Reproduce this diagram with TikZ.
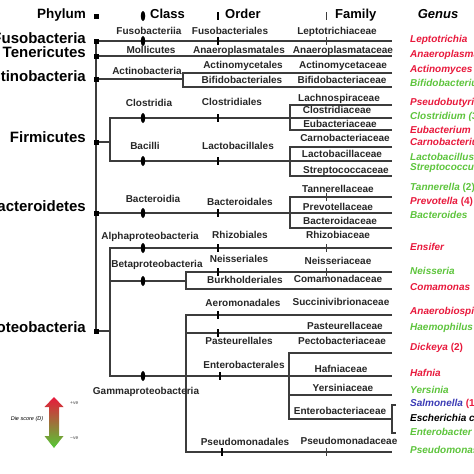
\documentclass[tikz,border=0pt]{standalone}
\usepackage{fontspec}
\setmainfont{Liberation Sans}
\usetikzlibrary{shapes.geometric}
\definecolor{rojo}{HTML}{E8193C}
\definecolor{verde}{HTML}{5DC43C}
\definecolor{azul}{HTML}{3B3BB5}
\definecolor{gris}{HTML}{3C3C3C}
\begin{document}
\begin{tikzpicture}[x=1pt, y=-1pt,
    rama/.style={draw=gris, line width=1.1pt},
    cuadro/.style={fill=black, minimum size=5pt, inner sep=0pt},
    marcaclase/.style={ellipse, fill=black, minimum width=4.5pt, minimum height=10pt, inner sep=0pt},
    marcaorden/.style={fill=black, minimum width=2.6pt, minimum height=8.5pt, inner sep=0pt},
    marcafam/.style={fill=gris, minimum width=0.9pt, minimum height=8pt, inner sep=0pt},
    filo/.style={anchor=mid east, inner sep=0pt, font=\bfseries\fontsize{15}{17}\selectfont},
    titulo/.style={anchor=mid west, inner sep=0pt, font=\bfseries\fontsize{13}{15}\selectfont},
    taxon/.style={anchor=mid, inner sep=0pt, text=black!85, font=\bfseries\fontsize{10}{12}\selectfont},
    genero/.style={anchor=mid west, inner sep=0pt, font=\bfseries\itshape\fontsize{10}{12}\selectfont}]
    \useasboundingbox (0,0) rectangle (474,474);

    % Encabezados
    \node[filo, font=\bfseries\fontsize{13.5}{15}\selectfont] (hFilo) at (86,16) {Phylum};
    \node[cuadro] (hCuadro) at (96,16) {};
    \node[marcaclase] (hMarcaClase) at (143,16) {};
    \node[titulo] (hClase) at (150,16) {Class};
    \node[marcaorden] (hMarcaOrden) at (218,16) {};
    \node[titulo] (hOrden) at (225,16) {Order};
    \node[marcafam] (hMarcaFam) at (326,16) {};
    \node[titulo] (hFam) at (335,16) {Family};
    \node[anchor=mid, inner sep=0pt, font=\bfseries\itshape\fontsize{13}{15}\selectfont] (hGenero) at (438,16) {Genus};

    % Definir los puntos
    \coordinate (fin) at (392,0);
    \coordinate (Fuso) at (96,41);
    \coordinate (Tene) at (96,56);
    \coordinate (Acti) at (96,79);
    \coordinate (Firm) at (96,142);
    \coordinate (Bact) at (96,213);
    \coordinate (Prot) at (96,331);
    \coordinate (actiB) at (183,79);
    \coordinate (actiB1) at (183,73);
    \coordinate (actiB2) at (183,87);
    \coordinate (firmB) at (110,142);
    \coordinate (clos) at (110,118);
    \coordinate (baci) at (110,161);
    \coordinate (closB1) at (290,105);
    \coordinate (closB2) at (290,130);
    \coordinate (lactB1) at (290,147);
    \coordinate (lactB2) at (290,176);
    \coordinate (bactB1) at (290,197);
    \coordinate (bactB2) at (290,228);
    \coordinate (protB) at (110,331);
    \coordinate (alfa) at (110,248);
    \coordinate (beta) at (110,281);
    \coordinate (gama) at (110,376);
    \coordinate (betaB) at (186,281);
    \coordinate (neis) at (186,272);
    \coordinate (burk) at (186,289);
    \coordinate (aero) at (186,315);
    \coordinate (past) at (186,333);
    \coordinate (pseu) at (186,452);
    \coordinate (pect) at (289,353);
    \coordinate (yers) at (289,395);
    \coordinate (entB) at (289,419);
    \coordinate (salm) at (396,405);
    \coordinate (ente) at (396,433);

    % Dibujar las ramas
    \draw[rama] (Fuso) -- (Prot);
    \draw[rama] (Fuso) -- (Fuso -| fin);
    \draw[rama] (Tene) -- (Tene -| fin);
    \draw[rama] (Acti) -- (actiB);
    \draw[rama] (actiB1 -| fin) -- (actiB1) -- (actiB2) -- (actiB2 -| fin);
    \draw[rama] (Firm) -- (firmB);
    \draw[rama] (clos -| fin) -- (clos) -- (baci) -- (baci -| fin);
    \draw[rama] (closB1 -| fin) -- (closB1) -- (closB2) -- (closB2 -| fin);
    \draw[rama] (lactB1 -| fin) -- (lactB1) -- (lactB2) -- (lactB2 -| fin);
    \draw[rama] (Bact) -- (Bact -| fin);
    \draw[rama] (bactB1 -| fin) -- (bactB1) -- (bactB2) -- (bactB2 -| fin);
    \draw[rama] (Prot) -- (protB);
    \draw[rama] (alfa -| fin) -- (alfa) -- (gama) -- (gama -| fin);
    \draw[rama] (beta) -- (betaB);
    \draw[rama] (neis -| fin) -- (neis) -- (burk) -- (burk -| fin);
    \draw[rama] (aero -| fin) -- (aero) -- (pseu) -- (pseu -| fin);
    \draw[rama] (past) -- (past -| fin);
    \draw[rama] (pect -| fin) -- (pect) -- (entB) -- (entB -| fin);
    \draw[rama] (yers) -- (yers -| fin);
    \draw[rama] (salm) -- (salm -| fin) -- (ente -| fin) -- (ente);

    % Marcas de filo
    \node[cuadro] (cFuso) at (Fuso) {};
    \node[cuadro] (cTene) at (Tene) {};
    \node[cuadro] (cActi) at (Acti) {};
    \node[cuadro] (cFirm) at (Firm) {};
    \node[cuadro] (cBact) at (Bact) {};
    \node[cuadro] (cProt) at (Prot) {};

    % Marcas de clase
    \node[marcaclase] (eFuso) at (143,41) {};
    \node[marcaclase] (eClos) at (143,118) {};
    \node[marcaclase] (eBaci) at (143,161) {};
    \node[marcaclase] (eBact) at (143,213) {};
    \node[marcaclase] (eAlfa) at (143,248) {};
    \node[marcaclase] (eBeta) at (143,281) {};
    \node[marcaclase] (eGama) at (143,376) {};

    % Marcas de orden
    \node[marcaorden] (oFuso) at (218,41) {};
    \node[marcaorden] (oClos) at (218,118) {};
    \node[marcaorden] (oLact) at (218,161) {};
    \node[marcaorden] (oBact) at (218,213) {};
    \node[marcaorden] (oRhiz) at (218,248) {};
    \node[marcaorden] (oNeis) at (218,272) {};
    \node[marcaorden] (oAero) at (218,315) {};
    \node[marcaorden] (oPast) at (218,333) {};
    \node[marcaorden] (oEnte) at (220,376) {};
    \node[marcaorden] (oPseu) at (222,452) {};

    % Marcas de familia
    \node[marcafam] (fLept) at (326,41) {};
    \node[marcafam] (fTann) at (326,197) {};
    \node[marcafam] (fRhiz) at (326,248) {};
    \node[marcafam] (fNeis) at (326,272) {};
    \node[marcafam] (fPseu) at (326,452) {};

    % Etiquetas de filo
    \node[filo] (tFuso) at (86,41) {Fusobacteria};
    \node[filo] (tTene) at (86,55) {Tenericutes};
    \node[filo] (tActi) at (86,79) {Actinobacteria};
    \node[filo] (tFirm) at (86,140) {Firmicutes};
    \node[filo] (tBact) at (86,209) {Bacteroidetes};
    \node[filo] (tProt) at (86,330) {Proteobacteria};

    % Etiquetas de clase
    \node[taxon] (lFusobacteriia) at (149,32) {Fusobacteriia};
    \node[taxon] (lMollicutes) at (151,51) {Mollicutes};
    \node[taxon] (lActinobacteria) at (147,72) {Actinobacteria};
    \node[taxon] (lClostridia) at (149,104) {Clostridia};
    \node[taxon] (lBacilli) at (145,147) {Bacilli};
    \node[taxon] (lBacteroidia) at (153,200) {Bacteroidia};
    \node[taxon] (lAlfa) at (150,237) {Alphaproteobacteria};
    \node[taxon] (lBeta) at (157,265) {Betaproteobacteria};
    \node[taxon] (lGama) at (146,392) {Gammaproteobacteria};

    % Etiquetas de orden
    \node[taxon] (lFusobacteriales) at (230,32) {Fusobacteriales};
    \node[taxon] (lAnaeroplasmatales) at (239,51) {Anaeroplasmatales};
    \node[taxon] (lActinomycetales) at (243,66) {Actinomycetales};
    \node[taxon] (lBifidobacteriales) at (242,81) {Bifidobacteriales};
    \node[taxon] (lClostridiales) at (232,103) {Clostridiales};
    \node[taxon] (lLactobacillales) at (238,147) {Lactobacillales};
    \node[taxon] (lBacteroidales) at (240,203) {Bacteroidales};
    \node[taxon] (lRhizobiales) at (240,236) {Rhizobiales};
    \node[taxon] (lNeisseriales) at (239,260) {Neisseriales};
    \node[taxon] (lBurkholderiales) at (245,281) {Burkholderiales};
    \node[taxon] (lAeromonadales) at (243,304) {Aeromonadales};
    \node[taxon] (lPasteurellales) at (239,342) {Pasteurellales};
    \node[taxon] (lEnterobacterales) at (244,366) {Enterobacterales};
    \node[taxon] (lPseudomonadales) at (245,443) {Pseudomonadales};

    % Etiquetas de familia
    \node[taxon] (lLeptotrichiaceae) at (337,32) {Leptotrichiaceae};
    \node[taxon] (lAnaeroplasmataceae) at (343,51) {Anaeroplasmataceae};
    \node[taxon] (lActinomycetaceae) at (343,66) {Actinomycetaceae};
    \node[taxon] (lBifidobacteriaceae) at (342,81) {Bifidobacteriaceae};
    \node[taxon] (lLachnospiraceae) at (339,99) {Lachnospiraceae};
    \node[taxon] (lClostridiaceae) at (337,111) {Clostridiaceae};
    \node[taxon] (lEubacteriaceae) at (340,125) {Eubacteriaceae};
    \node[taxon] (lCarnobacteriaceae) at (345,139) {Carnobacteriaceae};
    \node[taxon] (lLactobacillaceae) at (342,155) {Lactobacillaceae};
    \node[taxon] (lStreptococcaceae) at (346,171) {Streptococcaceae};
    \node[taxon] (lTannerellaceae) at (338,190) {Tannerellaceae};
    \node[taxon] (lPrevotellaceae) at (338,208) {Prevotellaceae};
    \node[taxon] (lBacteroidaceae) at (340,222) {Bacteroidaceae};
    \node[taxon] (lRhizobiaceae) at (338,236) {Rhizobiaceae};
    \node[taxon] (lNeisseriaceae) at (338,262) {Neisseriaceae};
    \node[taxon] (lComamonadaceae) at (338,280) {Comamonadaceae};
    \node[taxon] (lSuccinivibrionaceae) at (341,303) {Succinivibrionaceae};
    \node[taxon] (lPasteurellaceae) at (345,327) {Pasteurellaceae};
    \node[taxon] (lPectobacteriaceae) at (342,342) {Pectobacteriaceae};
    \node[taxon] (lHafniaceae) at (341,370) {Hafniaceae};
    \node[taxon] (lYersiniaceae) at (343,389) {Yersiniaceae};
    \node[taxon] (lEnterobacteriaceae) at (340,412) {Enterobacteriaceae};
    \node[taxon] (lPseudomonadaceae) at (349,442) {Pseudomonadaceae};

    % Etiquetas de genero
    \node[genero, rojo] (gLeptotrichia) at (410,40) {Leptotrichia};
    \node[genero, rojo] (gAnaeroplasma) at (410,55) {Anaeroplasma};
    \node[genero, rojo] (gActinomyces) at (410,70) {Actinomyces};
    \node[genero, verde] (gBifidobacterium) at (410,84) {Bifidobacterium};
    \node[genero, rojo] (gPseudobutyrivibrio) at (410,103) {Pseudobutyrivibrio};
    \node[genero, verde] (gClostridium) at (410,117) {Clostridium (3)};
    \node[genero, rojo] (gEubacterium) at (410,131) {Eubacterium};
    \node[genero, rojo] (gCarnobacterium) at (410,143) {Carnobacterium};
    \node[genero, verde] (gLactobacillus) at (410,158) {Lactobacillus};
    \node[genero, verde] (gStreptococcus) at (410,168) {Streptococcus};
    \node[genero, verde] (gTannerella) at (410,188) {Tannerella \textup{(2)}};
    \node[genero, rojo] (gPrevotella) at (410,202) {Prevotella \textup{(4)}};
    \node[genero, verde] (gBacteroides) at (410,216) {Bacteroides};
    \node[genero, rojo] (gEnsifer) at (410,248) {Ensifer};
    \node[genero, verde] (gNeisseria) at (410,272) {Neisseria};
    \node[genero, rojo] (gComamonas) at (410,288) {Comamonas};
    \node[genero, rojo] (gAnaerobiospirillum) at (410,312) {Anaerobiospirillum};
    \node[genero, verde] (gHaemophilus) at (410,328) {Haemophilus};
    \node[genero, rojo] (gDickeya) at (410,348) {Dickeya \textup{(2)}};
    \node[genero, rojo] (gHafnia) at (410,374) {Hafnia};
    \node[genero, verde] (gYersinia) at (410,391) {Yersinia};
    \node[genero, azul] (gSalmonella) at (410,404) {Salmonella \textcolor{rojo}{\textup{(1)}}};
    \node[genero, black] (gEscherichia) at (410,419) {Escherichia coli};
    \node[genero, verde] (gEnterobacter) at (410,433) {Enterobacter};
    \node[genero, verde] (gPseudomonas) at (410,451) {Pseudomonas};

    % Leyenda
    \shade[top color=rojo, bottom color=verde!90!green]
        (54,397) -- (63.5,407) -- (59,407) -- (59,436) -- (63.5,436) -- (54,448)
        -- (44.5,436) -- (49,436) -- (49,407) -- (44.5,407) -- cycle;
    \node[inner sep=0pt, font=\itshape\fontsize{5.5}{6}\selectfont] (lDie) at (27,419) {Die score (D)};
    \node[anchor=mid west, inner sep=0pt, text=black!70, font=\fontsize{5}{6}\selectfont] (lMas) at (70,402) {+ve};
    \node[anchor=mid west, inner sep=0pt, text=black!70, font=\fontsize{5}{6}\selectfont] (lMenos) at (70,437) {−ve};

\end{tikzpicture}
\end{document}
